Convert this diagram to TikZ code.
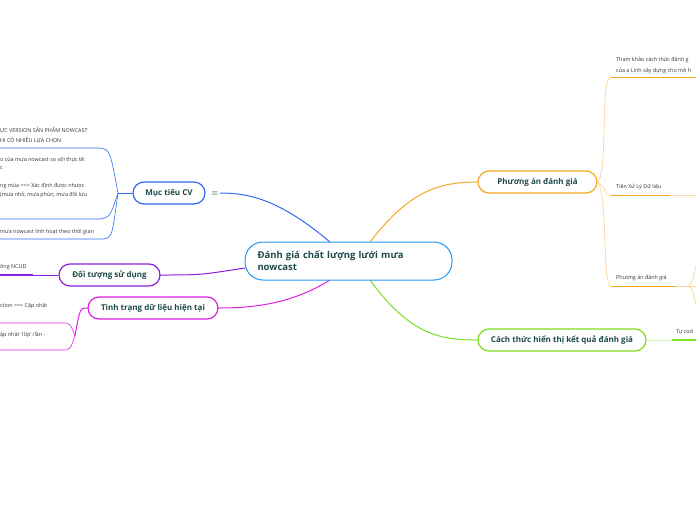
\documentclass[tikz,border=0pt]{standalone}
\usepackage{fontspec}
\setmainfont{Open Sans}
\definecolor{kb}{HTML}{2F6BF0}
\definecolor{kp}{HTML}{8A1FE0}
\definecolor{km}{HTML}{E020E0}
\definecolor{ko}{HTML}{F5A623}
\definecolor{kol}{HTML}{FBD9A6}
\definecolor{kg}{HTML}{7BE01F}
\definecolor{kgl}{HTML}{D4F5B5}
\definecolor{kt}{HTML}{1E4A4A}
\begin{document}
\begin{tikzpicture}[x=1pt,y=-1pt,
 topic/.style={draw=#1,line width=1.2pt,rounded corners=11pt,fill=white,text=kt,font=\bfseries\fontsize{8}{9}\selectfont,inner sep=0pt},
 leaf/.style={font=\fontsize{5.4}{6}\selectfont,text=black!80,anchor=west,inner sep=0pt},
 con/.style={line width=1pt}]
\useasboundingbox (0,0) rectangle (696,520);
% main connectors (drawn first)
\draw[con,kb] (330,242) .. controls (280,200) and (250,193) .. (220,193);
\draw[con,kp] (245,268) .. controls (200,275) .. (160,275);
\draw[con,km] (330,280) .. controls (290,305) and (250,308) .. (218,308);
\draw[con,ko] (370,242) .. controls (410,190) and (440,182) .. (478,182);
\draw[con,kg] (370,280) .. controls (410,335) and (440,340) .. (478,340);
% central
\node[draw=kb!70!cyan,line width=1pt,rounded corners=18pt,fill=white,minimum width=207pt,minimum height=38pt,text=kt,font=\bfseries\fontsize{9.5}{12}\selectfont,align=left,text width=182pt] (c) at (348.5,261) {Đánh giá chất lượng lưới mưa\\nowcast};
\node[topic=kb,minimum width=72pt,minimum height=22pt] (mt) at (169,193) {Mục tiêu CV};
\node[topic=kp,minimum width=101pt,minimum height=22pt] (dt) at (109.5,275) {Đối tượng sử dụng};
\node[topic=km,minimum width=130pt,minimum height=22pt] (tt) at (153,308) {Tình trạng dữ liệu hiện tại};
\node[topic=ko,minimum width=119pt,minimum height=22pt] (pa) at (537.5,182) {Phương án đánh giá};
\node[topic=kg,minimum width=168pt,minimum height=22pt] (ct) at (562,340) {Cách thức hiển thị kết quả đánh giá};
\node[font=\fontsize{8}{8}\selectfont,text=kt,fill=white,inner sep=1pt] (ic) at (215,194) {$\equiv$};
% blue leaves
\coordinate (bj) at (118,193);
\draw[con,kb] (mt.west) -- (bj);
\draw[kb,line width=0.6pt] (bj) .. controls (110,150) .. (100,148) -- (0,148);
\draw[kb,line width=0.6pt] (bj) .. controls (110,217) .. (100,219) -- (0,219);
\draw[kb,line width=0.6pt] (bj) .. controls (112,237) .. (104,239) -- (0,239);
\node[leaf] (b1) at (0,130) {ỰC VERSION SẢN PHẨM NOWCAST};
\node[leaf] (b2) at (0,140) {HI CÓ NHIỀU LỰA CHỌN};
\node[leaf] (b3) at (0,160) {o của mưa nowcast so với thực tế:};
\node[leaf] (b4) at (0,168) {c};
\node[leaf] (b5) at (0,186) {ng mùa ==> Xác định được nhược};
\node[leaf] (b6) at (0,195) {(mưa nhỏ, mưa phùn, mưa đối lưu};
\node[leaf] (b7) at (0,232) {mưa nowcast linh hoạt theo thời gian};
% purple
\draw[kp,line width=0.6pt] (dt.west) -- (33,275);
\draw[kp,line width=1.2pt] (33,275) -- (0,275);
\node[leaf] (p1) at (0,267) {ống NCUD};
% magenta
\coordinate (mj) at (75,336);
\draw[con,km] (tt.west) .. controls (80,308) .. (mj);
\draw[km,line width=0.6pt] (mj) .. controls (70,323) .. (62,323) -- (0,323);
\draw[km,line width=0.6pt] (mj) .. controls (70,350) .. (62,350) -- (0,350);
\node[leaf] (m1) at (0,306) {ction ==> Cập nhật};
\node[leaf] (m2) at (0,335) {ập nhật 10p' /lần -};
% orange
\coordinate (oj) at (598,182);
\draw[con,ko] (pa.east) -- (oj);
\draw[kol,line width=0.8pt] (oj) .. controls (608,170) and (600,77) .. (611,77);
\draw[ko,line width=1pt] (611,77) -- (696,77);
\draw[kol,line width=0.8pt] (oj) .. controls (608,190) and (603,195) .. (611,195);
\draw[ko,line width=1pt] (611,195) -- (670,195);
\draw[kol,line width=1pt] (670,195) -- (696,195);
\draw[kol,line width=0.8pt] (oj) .. controls (608,200) and (602,286) .. (611,286);
\draw[ko,line width=1pt] (611,286) -- (676,286);
\draw[kol,line width=1pt] (676,286) -- (696,286);
\draw[kol,line width=0.8pt] (687,286) .. controls (692,284) .. (696,265);
\draw[kol,line width=0.8pt] (687,286) .. controls (692,288) .. (696,305);
\node[leaf] (o1) at (616,60) {Tham khảo cách thức đánh g};
\node[leaf] (o2) at (616,71) {của a Linh xây dựng cho mô h};
\node[leaf] (o3) at (616,187) {Tiền Xử Lý Dữ liệu};
\node[leaf] (o4) at (616,278) {Phương án đánh giá};
% green
\draw[kgl,line width=1pt] (ct.east) -- (672,340);
\draw[kg,line width=1.2pt] (672,340) -- (696,340);
\node[leaf] (g1) at (676,332) {Tự cod};
\end{tikzpicture}
\end{document}
